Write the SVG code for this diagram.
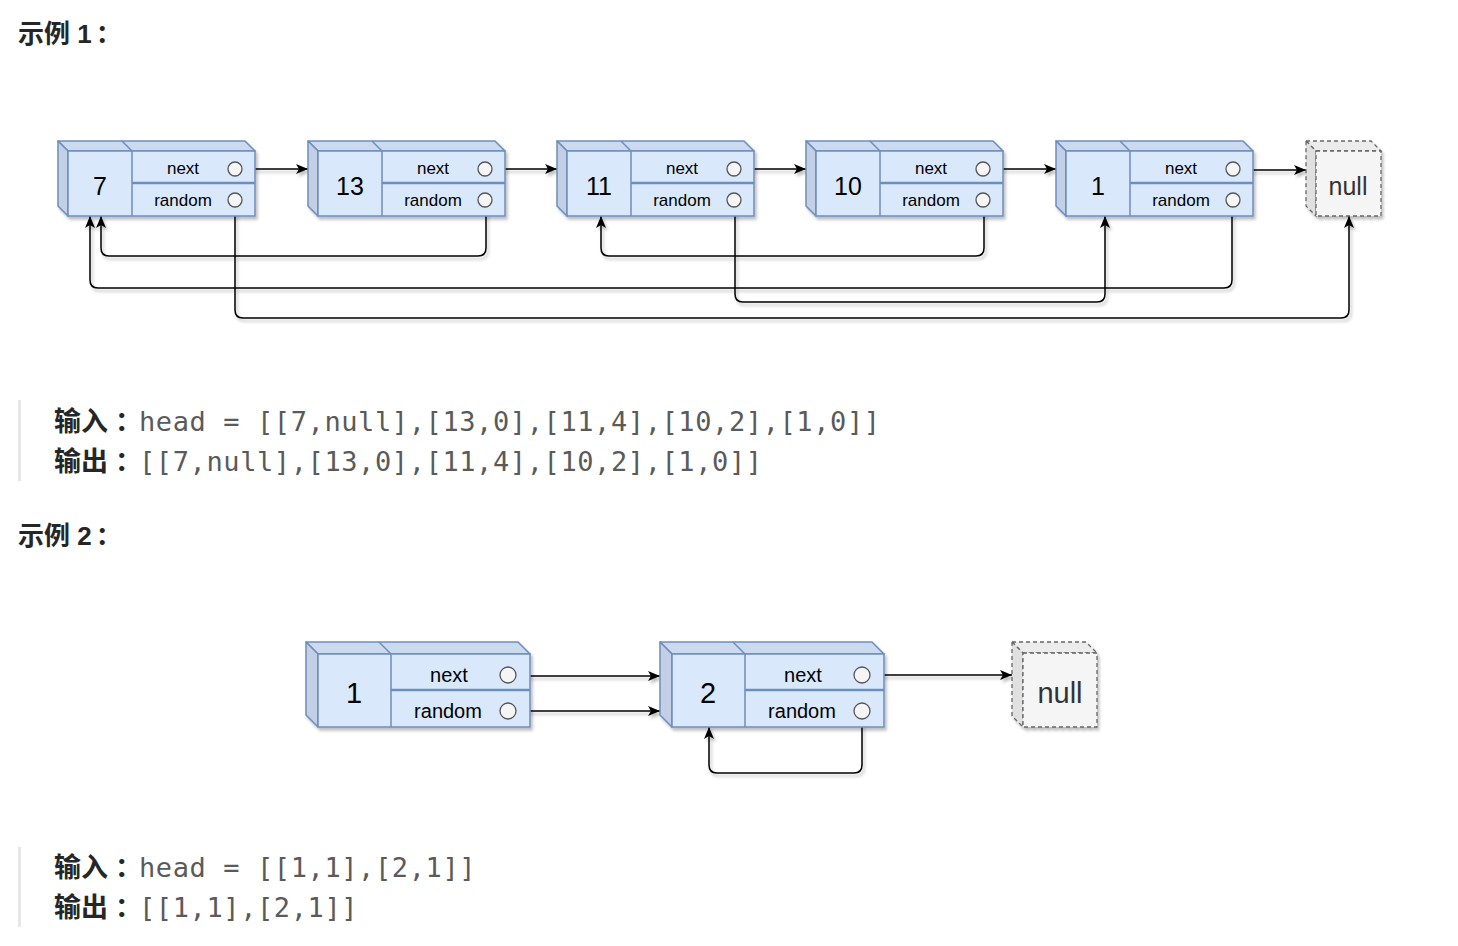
<svg xmlns="http://www.w3.org/2000/svg" xmlns:xlink="http://www.w3.org/1999/xlink" width="1458" height="946" viewBox="0 0 1458 946">
<style>
.bg{fill:#ffffff}
.top{fill:#ccdaef;stroke:#6c8ebf;stroke-width:1.5;stroke-linejoin:round}
.side{fill:#c2cfe5;stroke:#6c8ebf;stroke-width:1.5;stroke-linejoin:round}
.front{fill:#dae8fc;stroke:#6c8ebf;stroke-width:1.5}
.div{stroke:#6c8ebf;stroke-width:1.5;fill:none}
.div2{stroke:#6c8ebf;stroke-width:2.5;fill:none}
.port{fill:#f5f5f5;stroke:#555;stroke-width:1.3}
.ntop{fill:#ececec;stroke:#666;stroke-width:1.3;stroke-dasharray:4 3}
.nside{fill:#e0e0e0;stroke:#666;stroke-width:1.3;stroke-dasharray:4 3}
.nfront{fill:#f5f5f5;stroke:#666;stroke-width:1.3;stroke-dasharray:4 3}
.lbl{font-family:"Liberation Sans","DejaVu Sans",sans-serif;fill:#000;text-anchor:middle}
.f1{font-size:17px}
.v1{font-size:25px}
.f2{font-size:20px}
.v2{font-size:29px}
.nul{fill:#333}
.edge{fill:none;stroke:#000;stroke-width:1.5}
.h{font-family:"Liberation Sans","Noto Sans CJK SC",sans-serif;font-weight:bold;font-size:26px;fill:#262626}
.cn{font-family:"Noto Sans CJK SC",sans-serif;font-weight:bold;font-size:27px;fill:#262626}
.mono{font-family:"DejaVu Sans Mono","Liberation Mono",monospace;font-size:27px;letter-spacing:0.6px;fill:#5a5a5a}
.bar{fill:#e6e6e6}
</style>
<defs>
<filter id="sh" x="-10%" y="-10%" width="130%" height="140%">
<feDropShadow dx="2" dy="3" stdDeviation="1.5" flood-color="#000" flood-opacity="0.25"/>
</filter>
<marker id="ah" viewBox="0 0 12 10" refX="12" refY="5" markerWidth="12" markerHeight="10" markerUnits="userSpaceOnUse" orient="auto">
<path d="M0,0 L12,5 L0,10 L3,5 Z" fill="#000"/>
</marker>
<g id="box1">
<polygon class="top" points="0,0 187,0 197,10 10,10"/>
<polygon class="side" points="0,0 10,10 10,75 0,65"/>
<rect class="front" x="10" y="10" width="187" height="65"/>
<line class="div" x1="64" y1="0" x2="74" y2="10"/>
<line class="div" x1="74" y1="10" x2="74" y2="75"/>
<line class="div2" x1="74" y1="42" x2="197" y2="42"/>
<circle class="port" cx="177" cy="28" r="7"/>
<circle class="port" cx="177" cy="59" r="7"/>
</g>
<g id="box2">
<polygon class="top" points="0,0 212,0 224,12 12,12"/>
<polygon class="side" points="0,0 12,12 12,85 0,73"/>
<rect class="front" x="12" y="12" width="212" height="73"/>
<line class="div" x1="73" y1="0" x2="85" y2="12"/>
<line class="div" x1="85" y1="12" x2="85" y2="85"/>
<line class="div2" x1="85" y1="48" x2="224" y2="48"/>
<circle class="port" cx="202" cy="33" r="8"/>
<circle class="port" cx="202" cy="69" r="8"/>
</g>
</defs>
<rect class="bg" x="0" y="0" width="1458" height="946"/>

<text class="h" x="18" y="43">示例 1<tspan dx="4">：</tspan></text>

<g id="connectors1" filter="url(#sh)">
<line class="edge" x1="242" y1="169" x2="308" y2="169" marker-end="url(#ah)"/>
<line class="edge" x1="493" y1="169" x2="557" y2="169" marker-end="url(#ah)"/>
<line class="edge" x1="742" y1="169" x2="806" y2="169" marker-end="url(#ah)"/>
<line class="edge" x1="991" y1="169" x2="1056" y2="169" marker-end="url(#ah)"/>
<line class="edge" x1="1239" y1="170" x2="1306" y2="170" marker-end="url(#ah)"/>
<path class="edge" d="M235,207 V310 Q235,318 243,318 H1341 Q1349,318 1349,310 V216" marker-end="url(#ah)"/>
<path class="edge" d="M486,207 V248 Q486,256 478,256 H109 Q101,256 101,248 V216" marker-end="url(#ah)"/>
<path class="edge" d="M735,207 V294 Q735,302 743,302 H1097 Q1105,302 1105,294 V216" marker-end="url(#ah)"/>
<path class="edge" d="M984,207 V248 Q984,256 976,256 H609 Q601,256 601,248 V216" marker-end="url(#ah)"/>
<path class="edge" d="M1232,207 V280 Q1232,288 1224,288 H98 Q90,288 90,280 V216" marker-end="url(#ah)"/>
</g>

<g id="n1_7">
<use href="#box1" x="58" y="141" filter="url(#sh)"/>
<text class="lbl v1" x="100" y="195">7</text>
<text class="lbl f1" x="183" y="174">next</text>
<text class="lbl f1" x="183" y="206">random</text>
</g>
<g id="n1_13">
<use href="#box1" x="308" y="141" filter="url(#sh)"/>
<text class="lbl v1" x="350" y="195">13</text>
<text class="lbl f1" x="433" y="174">next</text>
<text class="lbl f1" x="433" y="206">random</text>
</g>
<g id="n1_11">
<use href="#box1" x="557" y="141" filter="url(#sh)"/>
<text class="lbl v1" x="599" y="195">11</text>
<text class="lbl f1" x="682" y="174">next</text>
<text class="lbl f1" x="682" y="206">random</text>
</g>
<g id="n1_10">
<use href="#box1" x="806" y="141" filter="url(#sh)"/>
<text class="lbl v1" x="848" y="195">10</text>
<text class="lbl f1" x="931" y="174">next</text>
<text class="lbl f1" x="931" y="206">random</text>
</g>
<g id="n1_1">
<use href="#box1" x="1056" y="141" filter="url(#sh)"/>
<text class="lbl v1" x="1098" y="195">1</text>
<text class="lbl f1" x="1181" y="174">next</text>
<text class="lbl f1" x="1181" y="206">random</text>
</g>
<g id="n1_null">
<g filter="url(#sh)">
<polygon class="ntop" points="1306,141 1371,141 1381,151 1316,151"/>
<polygon class="nside" points="1306,141 1316,151 1316,216 1306,206"/>
<rect class="nfront" x="1316" y="151" width="65" height="65"/>
</g>
<text class="lbl v1 nul" x="1348" y="195">null</text>
</g>

<rect class="bar" x="18" y="400" width="3" height="81"/>
<text class="cn" x="54" y="431">输入<tspan dx="7">：</tspan></text>
<text class="mono" x="139" y="431">head = [[7,null],[13,0],[11,4],[10,2],[1,0]]</text>
<text class="cn" x="54" y="471">输出<tspan dx="7">：</tspan></text>
<text class="mono" x="139" y="471">[[7,null],[13,0],[11,4],[10,2],[1,0]]</text>

<text class="h" x="18" y="545">示例 2<tspan dx="4">：</tspan></text>

<g id="connectors2" filter="url(#sh)">
<line class="edge" x1="516" y1="676" x2="660" y2="676" marker-end="url(#ah)"/>
<line class="edge" x1="516" y1="711" x2="660" y2="711" marker-end="url(#ah)"/>
<line class="edge" x1="870" y1="675" x2="1012" y2="675" marker-end="url(#ah)"/>
<path class="edge" d="M862,719 V765 Q862,773 854,773 H717 Q709,773 709,765 V727" marker-end="url(#ah)"/>
</g>

<g id="n2_1">
<use href="#box2" x="306" y="642" filter="url(#sh)"/>
<text class="lbl v2" x="354" y="703">1</text>
<text class="lbl f2" x="449" y="682">next</text>
<text class="lbl f2" x="448" y="718">random</text>
</g>
<g id="n2_2">
<use href="#box2" x="660" y="642" filter="url(#sh)"/>
<text class="lbl v2" x="708" y="703">2</text>
<text class="lbl f2" x="803" y="682">next</text>
<text class="lbl f2" x="802" y="718">random</text>
</g>
<g id="n2_null">
<g filter="url(#sh)">
<polygon class="ntop" points="1012,642 1086,642 1097,653 1023,653"/>
<polygon class="nside" points="1012,642 1023,653 1023,727 1012,716"/>
<rect class="nfront" x="1023" y="653" width="74" height="74"/>
</g>
<text class="lbl v2 nul" x="1060" y="703">null</text>
</g>

<rect class="bar" x="18" y="847" width="3" height="80"/>
<text class="cn" x="54" y="877">输入<tspan dx="7">：</tspan></text>
<text class="mono" x="139" y="877">head = [[1,1],[2,1]]</text>
<text class="cn" x="54" y="917">输出<tspan dx="7">：</tspan></text>
<text class="mono" x="139" y="917">[[1,1],[2,1]]</text>
</svg>
